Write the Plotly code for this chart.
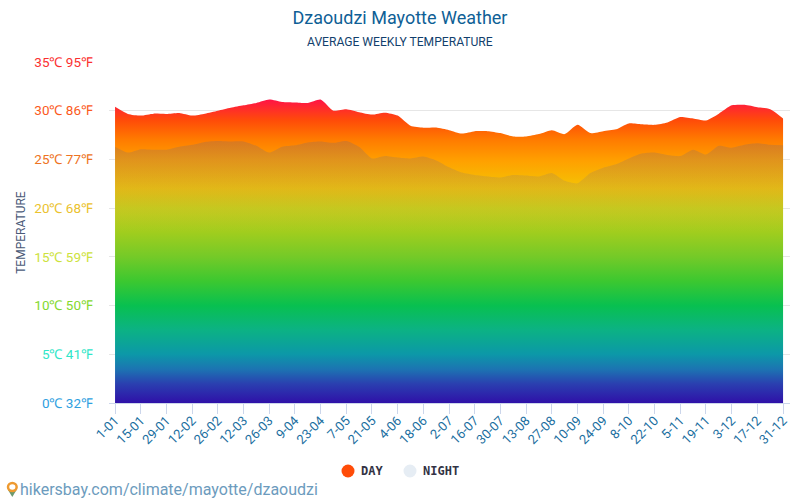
import plotly.graph_objects as go

weeks = list(range(53))
tick_weeks = list(range(0, 53, 2))
tick_dates = ["1-01", "15-01", "29-01", "12-02", "26-02", "12-03", "26-03", "9-04", "23-04",
              "7-05", "21-05", "4-06", "18-06", "2-07", "16-07", "30-07", "13-08", "27-08",
              "10-09", "24-09", "8-10", "22-10", "5-11", "19-11", "3-12", "17-12", "31-12"]

day_temp = [30.4, 29.67, 29.5, 29.7, 29.67, 29.77, 29.5, 29.7, 30.0, 30.3,
            30.55, 30.8, 31.15, 30.9, 30.85, 30.8, 31.15, 30.0, 30.15, 29.85,
            29.6, 29.8, 29.5, 28.45, 28.25, 28.27, 28.0, 27.65, 27.9, 27.9,
            27.7, 27.35, 27.35, 27.6, 28.0, 27.6, 28.55, 27.7, 27.9, 28.1,
            28.7, 28.6, 28.55, 28.8, 29.35, 29.2, 29.0, 29.7, 30.55, 30.6,
            30.35, 30.15, 29.2]
night_temp = [26.3, 25.7, 26.05, 26.0, 26.0, 26.3, 26.5, 26.8, 26.9, 26.85,
              26.85, 26.4, 25.7, 26.3, 26.45, 26.75, 26.85, 26.7, 26.9, 26.3,
              25.1, 25.35, 25.2, 25.1, 25.3, 24.9, 24.2, 23.65, 23.4, 23.25,
              23.15, 23.4, 23.35, 23.25, 23.6, 22.8, 22.55, 23.6, 24.15, 24.5,
              25.1, 25.6, 25.7, 25.45, 25.35, 26.0, 25.5, 26.4, 26.2, 26.5,
              26.65, 26.5, 26.45]

y_ticks = [0, 5, 10, 15, 20, 25, 30, 35]
y_labels = ["0℃ 32℉", "5℃ 41℉", "10℃ 50℉", "15℃ 59℉", "20℃ 68℉", "25℃ 77℉", "30℃ 86℉", "35℃ 95℉"]
y_colors = ["#2f9fdf", "#2fe6c8", "#84d92e", "#cde23c", "#ebc22e", "#ee7322", "#fb5a1c", "#fb2f2f"]

# temperature gradient, bottom to top of the chart area
day_scale = [[0.0, "#2f10a8"], [0.063, "#2a40b0"], [0.11, "#1c74b2"], [0.159, "#0c98a8"],
             [0.238, "#0cb284"], [0.317, "#08c050"], [0.397, "#3cc830"], [0.476, "#74ca28"],
             [0.635, "#ccd014"], [0.70, "#f4c404"], [0.79, "#ffa000"], [0.86, "#ff7a00"],
             [0.92, "#ff4c08"], [1.0, "#ff0a50"]]
night_scale = [[0.0, "rgba(150,150,150,0)"], [0.65, "rgba(150,150,150,0)"],
               [0.77, "rgba(150,140,110,0.16)"], [1.0, "rgba(150,110,90,0.36)"]]

fig = go.Figure()

fig.add_trace(go.Scatter(
    x=weeks, y=day_temp, mode="lines", fill="tozeroy", showlegend=False,
    line=dict(width=0, shape="spline", smoothing=0.6),
    fillgradient=dict(type="vertical", colorscale=day_scale, start=0, stop=31.5),
))
fig.add_trace(go.Scatter(
    x=weeks, y=night_temp, mode="lines", fill="tozeroy", showlegend=False,
    line=dict(width=0, shape="spline", smoothing=0.6),
    fillgradient=dict(type="vertical", colorscale=night_scale, start=0, stop=27),
))


def label(text, x, y, size, color, **kw):
    return dict(text=text, xref="paper", yref="paper", x=x, y=y, yanchor="middle",
                showarrow=False, font=dict(size=size, color=color), **kw)


legend_font = dict(size=12, color="#333344", family="DejaVu Sans Mono", weight="bold")

fig.update_layout(
    width=800, height=500,
    margin=dict(l=0, r=0, t=0, b=0, autoexpand=False),
    paper_bgcolor="white", plot_bgcolor="white",
    font=dict(family="Roboto"),
    showlegend=False,
    title=dict(text="Dzaoudzi Mayotte Weather", x=0.5, xanchor="center", y=0.965, yanchor="middle",
               font=dict(size=18, color="#0f5f96", family="Roboto")),
    annotations=[
        label("AVERAGE WEEKLY TEMPERATURE", 0.5, 0.916, 12.1, "#123f6d", xanchor="center"),
        label("TEMPERATURE", 0.026, 0.536, 12, "#4a5a78", xanchor="center", textangle=-90),
        label("hikersbay.com/climate/mayotte/dzaoudzi", 0.025, 0.022, 16, "#6c9bbd", xanchor="left", xshift=-2),
        dict(text="DAY", xref="paper", yref="paper", x=361 / 800, y=0.058, xanchor="left",
             yanchor="middle", showarrow=False, xshift=-2, font=legend_font),
        dict(text="NIGHT", xref="paper", yref="paper", x=423 / 800, y=0.058, xanchor="left",
             yanchor="middle", showarrow=False, xshift=-2, font=legend_font),
    ],
    shapes=[
        # legend dots
        dict(type="circle", xref="paper", yref="paper", line=dict(width=0), fillcolor="#ff4c08",
             x0=341.5 / 800, x1=354.5 / 800, y0=0.045, y1=0.071),
        dict(type="circle", xref="paper", yref="paper", line=dict(width=0), fillcolor="#e6edf4",
             x0=403.5 / 800, x1=416.5 / 800, y0=0.045, y1=0.071),
        # location pin next to the footer link
        dict(type="path", xref="paper", yref="paper", line=dict(width=0), fillcolor="#6c9a70",
             path="M 0.0100 0.020 L 0.0206 0.020 L 0.0154 0.006 Z"),
        dict(type="circle", xref="paper", yref="paper", line=dict(width=2.5, color="#ee9a30"),
             fillcolor="white", x0=0.0100, x1=0.0208, y0=0.018, y1=0.034),
    ],
)

fig.update_xaxes(
    automargin=False,
    domain=[109 / 800, 790 / 800], range=[-0.47, 52.54], showgrid=False, zeroline=False,
    tickmode="array", tickvals=tick_weeks, ticktext=tick_dates, tickangle=-45,
    ticks="outside", ticklen=10, tickwidth=1, tickcolor="#ccd6eb", ticklabelstandoff=-6,
    showline=True, linecolor="#ccd6eb", linewidth=1,
    tickfont=dict(size=13, color="#1a6ea0", family="Roboto"),
)
fig.update_yaxes(
    automargin=False,
    domain=[97 / 500, 438 / 500], range=[0, 35], zeroline=False,
    tickmode="array", tickvals=y_ticks,
    ticktext=[f'<span style="color:{c}">{t}</span>' for t, c in zip(y_labels, y_colors)],
    gridcolor="#e6e6e6", gridwidth=1, ticklabelstandoff=15,
    tickfont=dict(size=13.5, family="Roboto"),
)

# the page's default body margin would push the 800x500 figure off the window
fig.write_html("out.html", config=dict(displayModeBar=False),
               post_script="document.body.style.margin = '0';")
